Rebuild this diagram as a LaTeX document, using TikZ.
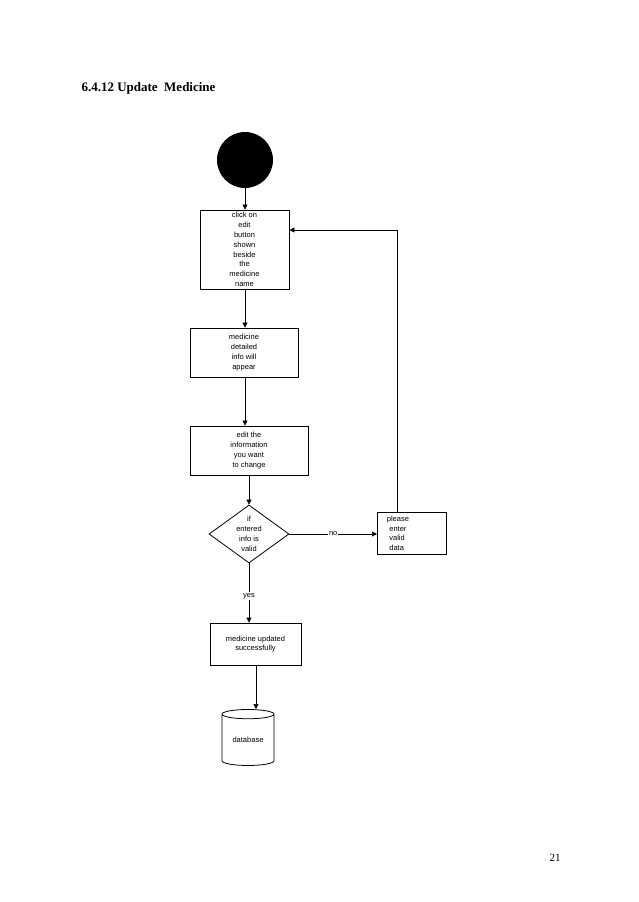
\documentclass[tikz,border=0pt]{standalone}
\usepackage{fontspec}
\setmainfont{Liberation Serif}
\newfontfamily\diag{Liberation Sans}
\usetikzlibrary{shapes.geometric,arrows.meta}
\begin{document}
\begin{tikzpicture}[x=1pt,y=-1pt,
  box/.style={draw,thick,align=center,font=\diag\fontsize{7.5}{9.8}\selectfont,inner sep=1pt},
  arr/.style={draw,semithick,-{Triangle[length=5pt,width=5pt]}},
  lab/.style={font=\diag\fontsize{7.5}{9}\selectfont,fill=white,inner sep=1pt}]
\useasboundingbox[fill=white] (0,0) rectangle (638,902);
\node[anchor=base west,font=\bfseries\fontsize{13}{15}\selectfont] (title) at (78,91) {6.4.12 Update\ \ Medicine};
\node[circle,fill=black,minimum size=56pt,inner sep=0] (start) at (245,160) {};
\node[box,minimum width=89pt,minimum height=79pt] (b1) at (244.5,249.5) {click on\\edit\\button\\shown\\beside\\the\\medicine\\name};
\node[box,minimum width=108pt,minimum height=49pt] (b2) at (244,352.5) {medicine\\detailed\\info will\\appear};
\node[box,minimum width=118pt,minimum height=49pt] (b3) at (249,450.5) {edit the\\information\\you want\\to change};
\node[box,diamond,aspect=1.38,minimum width=80pt,minimum height=58pt,inner sep=0] (d) at (249,534) {if\\entered\\info is\\valid};
\node[box,minimum width=69pt,minimum height=42pt,anchor=north west,text width=60pt,align=left] (b4) at (377,512) {\ \ please\\\ \ \ enter\\\ \ \ valid\\\ \ \ data};
\node[box,minimum width=91pt,minimum height=42pt] (b5) at (255.5,644) {medicine updated\\successfully};
\node[draw,thick,cylinder,shape border rotate=90,aspect=0.3,minimum width=52pt,minimum height=56pt,inner sep=0,font=\diag\fontsize{7.5}{9}\selectfont] (db) at (248,740) {database};
\node[anchor=base,font=\fontsize{11}{13}\selectfont] (pg) at (555,861) {21};
\draw[arr] (start) -- (b1.north -| start);
\draw[arr] (b1.south -| 245,0) -- (b2.north -| 245,0);
\draw[arr] (b2.south -| 245,0) -- (b3.north -| 245,0);
\draw[arr] (b3.south -| d) -- (d.north);
\draw[arr] (d.east) -- node[lab,pos=0.5]{no} (b4.west |- d);
\coordinate (c1) at (397,230);
\draw[arr] (b4.north -| c1) -- (c1) -- (b1.east |- c1);
\draw[arr] (d.south) -- node[lab,pos=0.55]{yes} (b5.north -| d);
\draw[arr] (b5.south -| 256,0) -- (db.north -| 256,0);
\end{tikzpicture}
\end{document}
